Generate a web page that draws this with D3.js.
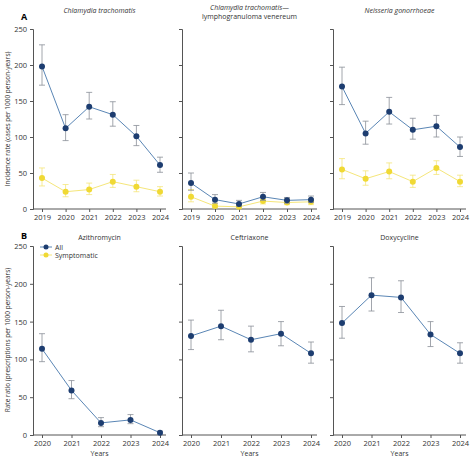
<!DOCTYPE html><html><head><meta charset="utf-8"><script src="https://cdn.jsdelivr.net/npm/d3@7"></script>
<style>body{margin:0;background:#fff}text{font-family:"Open Sans",sans-serif}</style></head><body><svg id="c" width="474" height="462"></svg><script>
const yearsA=[2019,2020,2021,2022,2023,2024];
const yearsB=[2020,2021,2022,2023,2024];
const yTicks=[0,50,100,150,200,250];
const titlesA=["Chlamydia trachomatis","Chlamydia trachomatis—|lymphogranuloma venereum","Neisseria gonorrhoeae"];
const titlesB=["Azithromycin","Ceftriaxone","Doxycycline"];
// [value, lower, upper]
const ctAll=[[198,172,228],[112,95,131],[142,125,162],[131,115,149],[101,88,116],[61,51,72]];
const ctSym=[[43,32,57],[24,17,34],[27,20,36],[38,30,48],[31,24,40],[24,18,31]];
const lgvAll=[[36,26,50],[13,8,20],[7,4,12],[17,12,23],[12,8,16],[13,9,18]];
const lgvSym=[[17,10,27],[4,2,8],[3,1,6],[11,7,16],[9,6,14],[10,6,14]];
const ngAll=[[170,145,197],[105,90,122],[135,118,155],[110,97,126],[115,100,130],[86,73,100]];
const ngSym=[[55,42,70],[42,33,53],[52,42,64],[38,30,47],[57,48,67],[38,31,47]];
const azi=[[114,97,134],[59,48,72],[16,11,23],[20,15,27],[3,1,5]];
const cef=[[131,113,152],[144,126,165],[126,110,144],[134,118,150],[108,95,123]];
const doxy=[[148,128,170],[185,164,208],[182,162,204],[133,117,150],[108,95,122]];
const svg=d3.select("#c");
const navy="#1d3d70",lineB="#5a86b5",yel="#f0d934",yelL="#f5e67a",err="#8a8f98";
const px=[[33,166],[182,317],[333,466]];
function panel(i,row,years,series,title,labels){
  const [y0,y1]=row==0?[209,29]:[435,246];
  const xs=d3.scaleLinear().domain([years[0],years[years.length-1]]).range([px[i][0]+9,px[i][1]-6]);
  const ys=d3.scaleLinear().domain([0,250]).range([y0,y1]);
  const g=svg.append("g");
  const ax=g.append("g").attr("transform",`translate(${px[i][0]},0)`).call(d3.axisLeft(ys).tickValues(yTicks).tickSize(3).tickFormat(labels?d3.format("d"):""));
  const bx=g.append("g").attr("transform",`translate(0,${y0})`).call(d3.axisBottom(xs).tickValues(years).tickFormat(d3.format("d")).tickSize(3));
  bx.select(".domain").attr("d",`M${px[i][0]},0H${px[i][1]}`);
  [ax,bx].forEach(a=>{a.selectAll("path,line").attr("stroke","#555");a.selectAll("text").attr("font-size",7.5).attr("fill","#333");});
  const tl=title.split("|");
  tl.forEach((t,k)=>g.append("text").attr("x",(px[i][0]+px[i][1])/2).attr("y",(row==0?13:240)+(tl.length>1?k*9-9:0)+ (row==0&&tl.length>1?6:0)).attr("text-anchor","middle").attr("font-size",7).attr("font-style",row==0&&k==0?"italic":"normal").attr("fill","#333").text(t));
  series.forEach(([d,c,lc])=>{
    g.append("path").datum(d).attr("fill","none").attr("stroke",lc).attr("stroke-width",1)
     .attr("d",d3.line().x((v,j)=>xs(years[j])).y(v=>ys(v[0])));
    d.forEach((v,j)=>{const x=xs(years[j]);
      g.append("path").attr("stroke",c==yel?yelL:err).attr("stroke-width",0.8).attr("fill","none")
       .attr("d",`M${x-3},${ys(v[1])}H${x+3}M${x-3},${ys(v[2])}H${x+3}M${x},${ys(v[1])}V${ys(v[2])}`);
      g.append("circle").attr("cx",x).attr("cy",ys(v[0])).attr("r",3).attr("fill",c);});
  });
  if(row==1) g.append("text").attr("x",(px[i][0]+px[i][1])/2).attr("y",456).attr("text-anchor","middle").attr("font-size",7).attr("fill","#333").text("Years");
}
panel(0,0,yearsA,[[ctSym,yel,yelL],[ctAll,navy,lineB]],titlesA[0],true);
panel(1,0,yearsA,[[lgvSym,yel,yelL],[lgvAll,navy,lineB]],titlesA[1],false);
panel(2,0,yearsA,[[ngSym,yel,yelL],[ngAll,navy,lineB]],titlesA[2],false);
panel(0,1,yearsB,[[azi,navy,lineB]],titlesB[0],true);
panel(1,1,yearsB,[[cef,navy,lineB]],titlesB[1],false);
panel(2,1,yearsB,[[doxy,navy,lineB]],titlesB[2],false);
svg.append("text").attr("x",21).attr("y",20).attr("font-size",9).attr("font-weight","bold").text("A");
svg.append("text").attr("x",21).attr("y",239).attr("font-size",9).attr("font-weight","bold").text("B");
svg.append("text").attr("transform","translate(10,119) rotate(-90)").attr("text-anchor","middle").attr("font-size",6.5).attr("fill","#333").text("Incidence rate (cases per 1000 person-years)");
svg.append("text").attr("transform","translate(10,340) rotate(-90)").attr("text-anchor","middle").attr("font-size",6.5).attr("fill","#333").text("Rate ratio (prescriptions per 1000 person-years)");
[["All",navy,lineB,247],["Symptomatic",yel,yelL,255]].forEach(([t,c,l,y])=>{
  svg.append("line").attr("x1",40).attr("x2",52).attr("y1",y).attr("y2",y).attr("stroke",l);
  svg.append("circle").attr("cx",46).attr("cy",y).attr("r",2.5).attr("fill",c);
  svg.append("text").attr("x",55).attr("y",y+2.5).attr("font-size",7).attr("fill","#333").text(t);
});
</script></body></html>
